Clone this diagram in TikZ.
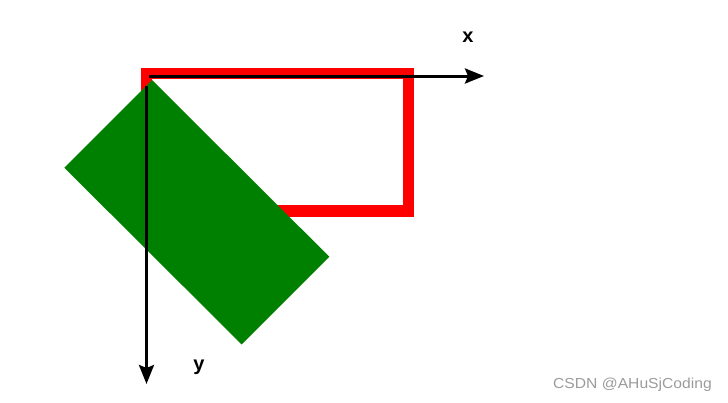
\documentclass[tikz,border=0pt]{standalone}
\usepackage{fontspec}
\setmainfont{Liberation Sans}
\usetikzlibrary{arrows.meta}
\definecolor{fillgreen}{RGB}{0,128,0}
\definecolor{wmgray}{RGB}{155,155,155}
\tikzset{
  axisline/.style={line width=3pt, -{Stealth[length=19pt,width=15pt,inset=3pt]}},
  axislabel/.style={font=\bfseries\fontsize{20}{22}\selectfont, inner sep=0pt, anchor=base},
  redbox/.style={draw=red, line width=11.5pt, line join=miter},
}
\begin{document}
\begin{tikzpicture}[x=1pt,y=-1pt]
\useasboundingbox (0,0) rectangle (728,402);
\draw[redbox] (146.5,73.5) rectangle (408.7,211);
\fill[fillgreen] (152,80) -- (329.3,256.7) -- (241.6,344.4) -- (64.3,167.7) -- cycle;
\coordinate (xstart) at (149,76);
\coordinate (xend) at (484,76);
\coordinate (ystart) at (146.5,86);
\coordinate (yend) at (146.5,384);
\draw[axisline] (xstart) -- (xend);
\draw[axisline] (ystart) -- (yend);
\node[axislabel] (xlab) at (468,42.3) {x};
\node[axislabel] (ylab) at (199,370.5) {y};
\node[font=\fontsize{14.5}{16}\selectfont, text=wmgray, anchor=base east, inner sep=0pt] (wm) at (712,388) {\scalebox{1.08}[1]{CSDN @AHuSjCoding}};
\end{tikzpicture}
\end{document}
